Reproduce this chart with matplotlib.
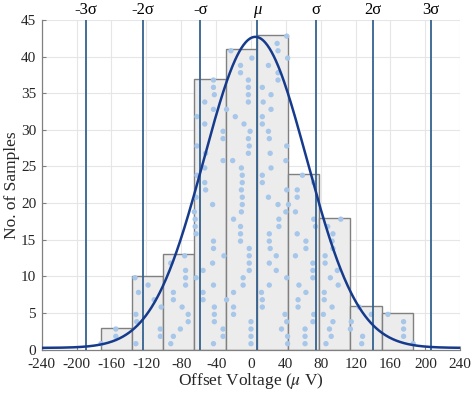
import numpy as np
import matplotlib
matplotlib.use("Agg")
import matplotlib.pyplot as plt

# ---- data ----
bin_edges = [-172.3, -136.5, -100.7, -64.9, -29.1, 6.7, 42.5, 78.3, 114.1, 149.9, 185.7]
counts = [3, 10, 13, 37, 41, 43, 24, 18, 6, 5]

# x value of every sample dot, per bin, listed bottom -> top
dots_b1 = [-172, -155, -155]
dots_b2 = [-132, -104, -104, -131, -132, -103, -111, -129, -118, -133]
dots_b3 = [-92, -89, -81, -72, -72, -79, -89, -89, -75, -75, -75, -92, -76]
dots_b4 = [-43, -32, -32, -42, -42, -42, -55, -55, -43, -63, -55, -44, -31, -43, -43,
           -63, -64, -64, -65, -44, -63, -52, -53, -62, -53, -32, -52, -62, -32, -32,
           -53, -62, -43, -53, -42, -43, -43]
dots_b5 = [0, 0, 0, 0, -20, -20, -28, -20, -9, -9, -2, -2, -2, -2, -12, -12, -12, -20,
           -11, -10, -10, -11, -10, -10, -11, -21, -3, -2, -3, -1, -8, -18, -28, -3, -3,
           -3, -3, -12, -12, 1, -23]
dots_b6 = [42, 42, 35, 41, 39, 13, 13, 12, 21, 41, 29, 21, 29, 22, 21, 21, 32, 32, 40, 31,
           20, 41, 13, 13, 23, 40, 22, 41, 21, 20, 13, 13, 23, 14, 23, 13, 31, 31, 20, 42,
           31, 30, 41]
dots_b7 = [62, 62, 62, 71, 72, 54, 54, 63, 55, 71, 71, 71, 51, 63, 63, 53, 74, 72, 51, 43,
           53, 53, 72, 59]
dots_b8 = [86, 92, 90, 94, 83, 93, 84, 84, 100, 91, 99, 85, 85, 94, 93, 94, 88, 103]
dots_b9 = [127, 128, 114, 115, 138, 124]
dots_b10 = [186, 175, 175, 175, 157]
dot_bins = [dots_b1, dots_b2, dots_b3, dots_b4, dots_b5, dots_b6, dots_b7, dots_b8,
            dots_b9, dots_b10]

sigma_pos = [-189, -124, -58, 7, 74, 140, 206]
sigma_labels = ["-3σ", "-2σ", "-σ", "μ", "σ", "2σ", "3σ"]

# fitted normal curve parameters
fit_peak = 42.7
fit_mean = 5.0
fit_sd = 59.0
fit_base = 0.22

xticks = list(range(-240, 241, 40))
yticks = list(range(0, 46, 5))

# ---- figure ----
plt.rcParams['font.family'] = ['Liberation Serif', 'DejaVu Serif']
plt.rcParams['mathtext.fontset'] = 'stix'

fig = plt.figure(figsize=(4.74, 3.97), dpi=100)
ax = fig.add_axes([0.088, 0.1196, 0.883, 0.830])

widths = np.diff(bin_edges)
ax.bar(bin_edges[:-1], counts, width=widths, align='edge', color='#ececec',
       edgecolor='#808080', linewidth=1.0, zorder=2)

for xs in dot_bins:
    ys = np.arange(1, len(xs) + 1) - 0.2
    ax.scatter(xs, ys, s=15, color='#a6c6ea', edgecolors='none', zorder=3)

for p in sigma_pos:
    ax.plot([p, p], [0, 45], color='#35628f', linewidth=1.3, zorder=4, solid_capstyle='butt')

for p, lab in zip(sigma_pos, sigma_labels):
    style = 'italic' if lab == "μ" else 'normal'
    ax.text(p, 45.3, lab, ha='center', va='bottom', fontsize=12, fontstyle=style,
            clip_on=False)

xc = np.linspace(-240, 240, 600)
yc = fit_base + (fit_peak - fit_base) * np.exp(-0.5 * ((xc - fit_mean) / fit_sd) ** 2)
ax.plot(xc, yc, color='#173b8c', linewidth=1.8, zorder=5)

ax.set_xlim(-240, 240)
ax.set_ylim(0, 45)
ax.set_xticks(xticks)
ax.set_yticks(yticks)
ax.set_xticklabels([str(t) for t in xticks])
ax.grid(True, color='#e6e6e6', linewidth=0.8, zorder=0)
ax.set_axisbelow(True)
for s in ['top', 'right']:
    ax.spines[s].set_visible(False)
for s in ['left', 'bottom']:
    ax.spines[s].set_color('#808080')
    ax.spines[s].set_linewidth(0.9)
ax.tick_params(axis='both', direction='in', length=3, color='#808080', labelsize=11,
               labelcolor='#262626')
ax.tick_params(axis='x', pad=6)
ax.tick_params(axis='y', pad=4)

ax.set_xlabel("Offset Voltage ($\\mu$ V)", fontsize=12.5, color='#262626', labelpad=0)
ax.set_ylabel("No. of Samples", fontsize=12.5, color='#262626', labelpad=1)

fig.savefig("out.png", dpi=100)
